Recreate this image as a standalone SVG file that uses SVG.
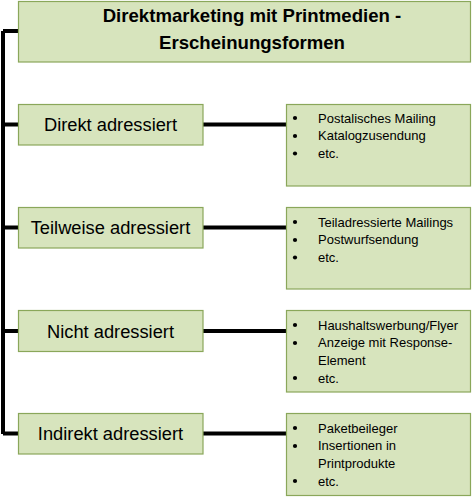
<svg xmlns="http://www.w3.org/2000/svg" width="472" height="497" viewBox="0 0 472 497">
<style>
.box{fill:#d7e4bd;stroke:#8aa75a;stroke-width:1.2}
.t{font-family:"Liberation Sans",Arial,sans-serif;fill:#000}
.title{font-size:18.6px;font-weight:bold;text-anchor:middle}
.lbl{font-size:18.3px;text-anchor:middle}
.li{font-size:13px}
.con{stroke:#000;stroke-width:4;fill:none;stroke-linecap:round}
.bul{fill:#000}
</style>
<rect width="472" height="497" fill="#fff"/>
<g id="connectors">
<path class="con" d="M3 31V434" style="stroke-linecap:butt"/>
<path class="con" d="M3 31H18M3 124.5H18M3 227.5H18M3 331H18M3 433.5H18" style="stroke-linecap:butt"/>
<path class="con" d="M203 124.5H286M203 227.5H286M203 331H286M203 433.5H286"/>
</g>
<g id="title">
<rect class="box" x="18.5" y="1.5" width="452" height="60.5"/>
<text class="t title" x="252" y="22">Direktmarketing mit Printmedien -</text>
<text class="t title" x="252" y="49">Erscheinungsformen</text>
</g>
<g id="direkt">
<rect class="box" x="18.5" y="104.5" width="184.5" height="40.5"/>
<text class="t lbl" x="110.5" y="131">Direkt adressiert</text>
</g>
<g id="direkt-list">
<rect class="box" x="286.5" y="104.5" width="184" height="81.5"/>
<circle class="bul" cx="295" cy="118" r="2.1"/>
<circle class="bul" cx="295" cy="136" r="2.1"/>
<circle class="bul" cx="295" cy="153.5" r="2.1"/>
<text class="t li" x="318" y="122.5">Postalisches Mailing</text>
<text class="t li" x="318" y="140.3">Katalogzusendung</text>
<text class="t li" x="318" y="158">etc.</text>
</g>
<g id="teilweise">
<rect class="box" x="18.5" y="207.5" width="184.5" height="40.5"/>
<text class="t lbl" x="110.5" y="234">Teilweise adressiert</text>
</g>
<g id="teilweise-list">
<rect class="box" x="286.5" y="207.5" width="184" height="81.5"/>
<circle class="bul" cx="295" cy="222" r="2.1"/>
<circle class="bul" cx="295" cy="240" r="2.1"/>
<circle class="bul" cx="295" cy="257.5" r="2.1"/>
<text class="t li" x="318" y="226.5">Teiladressierte Mailings</text>
<text class="t li" x="318" y="244.3">Postwurfsendung</text>
<text class="t li" x="318" y="262">etc.</text>
</g>
<g id="nicht">
<rect class="box" x="18.5" y="310.5" width="184.5" height="41"/>
<text class="t lbl" x="110.5" y="337.5">Nicht adressiert</text>
</g>
<g id="nicht-list">
<rect class="box" x="286.5" y="310.5" width="184" height="81.5"/>
<circle class="bul" cx="295" cy="325" r="2.1"/>
<circle class="bul" cx="295" cy="343" r="2.1"/>
<circle class="bul" cx="295" cy="378" r="2.1"/>
<text class="t li" x="318" y="329.5">Haushaltswerbung/Flyer</text>
<text class="t li" x="318" y="347.2">Anzeige mit Response-</text>
<text class="t li" x="318" y="365">Element</text>
<text class="t li" x="318" y="382.7">etc.</text>
</g>
<g id="indirekt">
<rect class="box" x="18.5" y="413.5" width="184.5" height="40.5"/>
<text class="t lbl" x="110.5" y="440">Indirekt adressiert</text>
</g>
<g id="indirekt-list">
<rect class="box" x="286.5" y="413.5" width="184" height="82"/>
<circle class="bul" cx="295" cy="428" r="2.1"/>
<circle class="bul" cx="295" cy="446" r="2.1"/>
<circle class="bul" cx="295" cy="481" r="2.1"/>
<text class="t li" x="318" y="432.5">Paketbeileger</text>
<text class="t li" x="318" y="450.2">Insertionen in</text>
<text class="t li" x="318" y="468">Printprodukte</text>
<text class="t li" x="318" y="485.7">etc.</text>
</g>
</svg>
